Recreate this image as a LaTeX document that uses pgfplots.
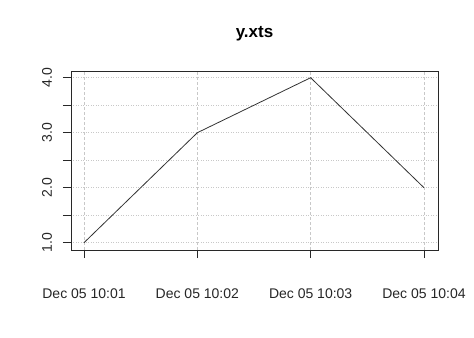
\documentclass[border=0pt]{standalone}
\usepackage{fontspec}
\setmainfont{Liberation Sans}
\usepackage{pgfplots}
\pgfplotsset{compat=1.18}
\definecolor{gridgray}{RGB}{200,200,200}
\definecolor{boxgray}{RGB}{40,40,40}
\begin{document}
\begin{tikzpicture}
\begin{axis}[
  scale only axis,
  width=367bp, height=179bp,
  at={(0,0)}, anchor=south west,
  xmin=0.885, xmax=4.124,
  ymin=0.867, ymax=4.122,
  xtick={1,2,3,4},
  xticklabels={Dec 05 10:01,Dec 05 10:02,Dec 05 10:03,Dec 05 10:04},
  ytick={1,1.5,2,2.5,3,3.5,4},
  yticklabels={1.0,,2.0,,3.0,,4.0},
  tick align=outside,
  major tick length=8bp,
  tick pos=left,
  tick style={boxgray, line width=0.8bp},
  axis line style={boxgray, line width=0.8bp},
  /pgf/number format/assume math mode=true,
  ticklabel style={font=\fontsize{14bp}{16bp}\selectfont, text=black!85},
  xticklabel style={anchor=base, yshift=-40bp, inner sep=0pt},
  yticklabel style={xshift=-16bp, rotate=90, anchor=center, inner sep=0pt},
  xmajorgrids, ymajorgrids,
  x grid style={gridgray, line width=0.7bp, dash pattern=on 3bp off 2bp},
  y grid style={gridgray, line width=0.7bp, dash pattern=on 1bp off 1.5bp},
  title={y.xts},
  title style={font=\bfseries\fontsize{17bp}{19bp}\selectfont, at={(0.5,1)}, anchor=base, yshift=28bp, inner sep=0pt},
]
\addplot[black!80, line width=0.8bp, mark=none] coordinates {(1,1) (2,3) (3,4) (4,2)};
\end{axis}
\pgfresetboundingbox
\path (-71bp,-88bp) rectangle (403bp,250bp);
\end{tikzpicture}
\end{document}
